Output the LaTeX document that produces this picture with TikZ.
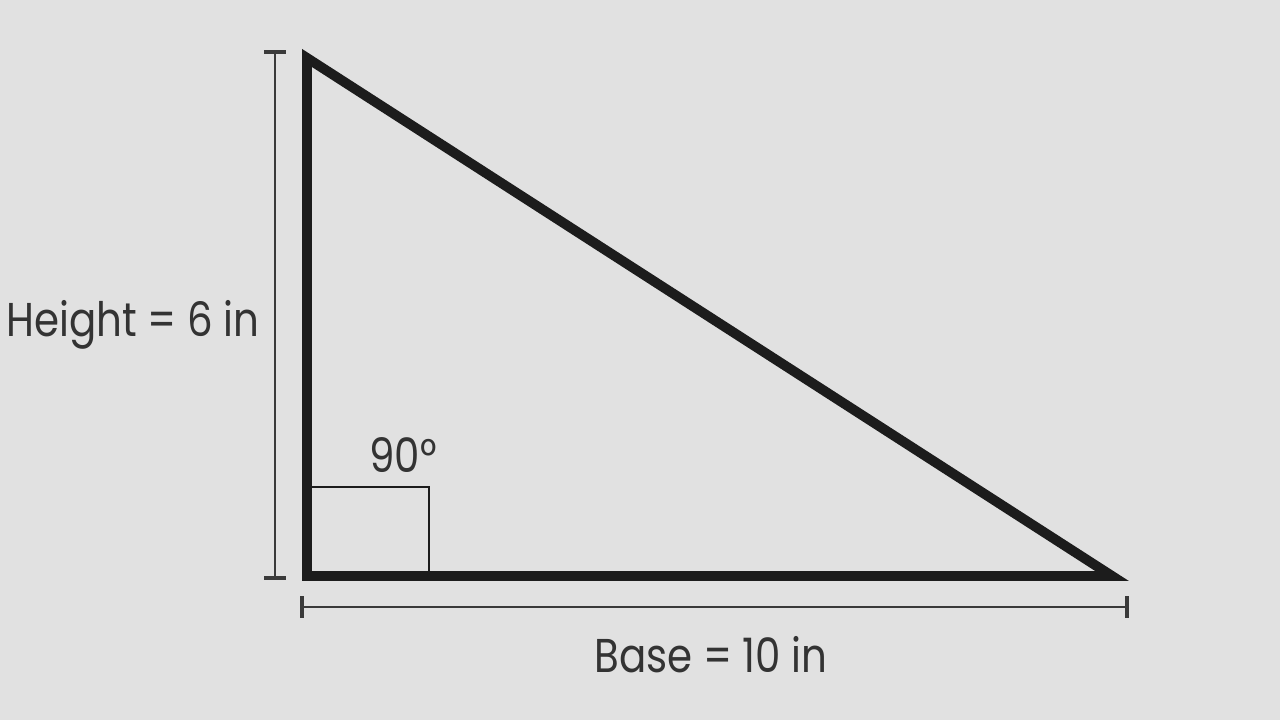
\documentclass[tikz,border=0pt]{standalone}
\usepackage{fontspec}
\setmainfont{Poppins}[FakeStretch=0.85]
\usetikzlibrary{calc}
\definecolor{bgcol}{HTML}{E1E1E1}
\definecolor{inkcol}{HTML}{1C1C1C}
\definecolor{dimcol}{HTML}{3A3A3A}
\tikzstyle{side} = [draw=inkcol,line width=2.8pt,line join=miter,miter limit=10]
\tikzstyle{dimline} = [draw=dimcol,line width=0.6pt]
\tikzstyle{dimtick} = [draw=dimcol,line width=1.2pt]
\tikzstyle{anglebox} = [draw=inkcol,line width=0.6pt]
\tikzstyle{label} = [text=inkcol!90,font=\fontsize{13.5}{15}\selectfont,inner sep=0pt]

\begin{document}
\begin{tikzpicture}

   \fill[bgcol] (0,0) rectangle (12.8,7.2);
   \useasboundingbox (0,0) rectangle (12.8,7.2);

% Triangle corners
   \foreach \pos/\name in {{(3.07,6.62)/A}, {(3.07,1.44)/B}, {(11.12,1.44)/C}}
       \node[coordinate] (\name) at \pos {};

   \draw[anglebox] (3.11,1.48) rectangle (4.29,2.33);
   \path[side] (A) -- (B) -- (C) -- cycle;

% Height
   \coordinate (hTop) at (2.75,6.68);
   \coordinate (hBot) at (2.75,1.42);
   \path[dimline] (hTop) -- (hBot);
   \foreach \p in {hTop, hBot}
       \path[dimtick] ($(\p)+(-0.11,0)$) -- ($(\p)+(0.11,0)$);

% Base
   \coordinate (bL) at (3.02,1.13);
   \coordinate (bR) at (11.27,1.13);
   \path[dimline] (bL) -- (bR);
   \foreach \p in {bL, bR}
       \path[dimtick] ($(\p)+(0,-0.11)$) -- ($(\p)+(0,0.11)$);

% Labels
   \node[label] (hLabel) at (1.33,3.95) {Height = 6 in};
   \node[label] (bLabel) at (7.11,0.65) {Base = 10 in};
   \node[label] (aLabel) at (4.03,2.65) {90°};

\end{tikzpicture}
\end{document}
